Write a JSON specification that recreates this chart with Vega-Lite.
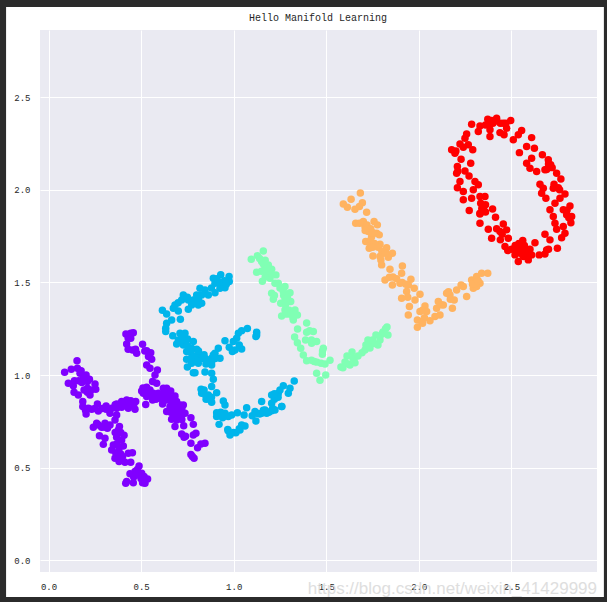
{"$schema":"https://vega.github.io/schema/vega-lite/v6.json","width":557,"height":542,"autosize":{"type":"none"},"padding":{"left":40,"top":30,"right":10,"bottom":30},"background":"white","config":{"view":{"fill":"#eaeaf2","stroke":null},"axis":{"domain":false,"ticks":false,"grid":true,"gridColor":"white","gridWidth":1,"gridOpacity":1,"labelFont":"Liberation Mono","labelFontSize":9,"labelColor":"#262626","labelPadding":10,"title":null}},"layer":[{"data":{"values":[
{"x":0.154,"y":1.078,"k":0},{"x":0.087,"y":1.015,"k":0},{"x":0.123,"y":1.031,"k":0},{"x":0.156,"y":1.037,"k":0},{"x":0.176,"y":1.024,"k":0},{"x":0.17,"y":1.01,"k":0},{"x":0.203,"y":1.001,"k":0},{"x":0.221,"y":0.977,"k":0},{"x":0.188,"y":0.983,"k":0},{"x":0.163,"y":0.97,"k":0},{"x":0.107,"y":0.956,"k":0},{"x":0.134,"y":0.943,"k":0},{"x":0.21,"y":0.965,"k":0},{"x":0.251,"y":0.952,"k":0},{"x":0.255,"y":0.923,"k":0},{"x":0.21,"y":0.929,"k":0},{"x":0.192,"y":0.92,"k":0},{"x":0.138,"y":0.907,"k":0},{"x":0.161,"y":0.893,"k":0},{"x":0.224,"y":0.893,"k":0},{"x":0.21,"y":0.907,"k":0},{"x":0.185,"y":0.857,"k":0},{"x":0.185,"y":0.83,"k":0},{"x":0.215,"y":0.821,"k":0},{"x":0.203,"y":0.79,"k":0},{"x":0.233,"y":0.815,"k":0},{"x":0.264,"y":0.844,"k":0},{"x":0.269,"y":0.806,"k":0},{"x":0.311,"y":0.833,"k":0},{"x":0.311,"y":0.815,"k":0},{"x":0.341,"y":0.821,"k":0},{"x":0.368,"y":0.844,"k":0},{"x":0.368,"y":0.821,"k":0},{"x":0.395,"y":0.826,"k":0},{"x":0.395,"y":0.857,"k":0},{"x":0.422,"y":0.866,"k":0},{"x":0.444,"y":0.862,"k":0},{"x":0.471,"y":0.857,"k":0},{"x":0.467,"y":0.815,"k":0},{"x":0.431,"y":0.821,"k":0},{"x":0.413,"y":0.839,"k":0},{"x":0.449,"y":0.839,"k":0},{"x":0.332,"y":0.794,"k":0},{"x":0.368,"y":0.785,"k":0},{"x":0.359,"y":0.758,"k":0},{"x":0.383,"y":0.722,"k":0},{"x":0.377,"y":0.704,"k":0},{"x":0.242,"y":0.718,"k":0},{"x":0.26,"y":0.74,"k":0},{"x":0.287,"y":0.718,"k":0},{"x":0.305,"y":0.74,"k":0},{"x":0.318,"y":0.713,"k":0},{"x":0.332,"y":0.731,"k":0},{"x":0.275,"y":0.673,"k":0},{"x":0.305,"y":0.659,"k":0},{"x":0.296,"y":0.626,"k":0},{"x":0.35,"y":0.623,"k":0},{"x":0.368,"y":0.664,"k":0},{"x":0.408,"y":0.675,"k":0},{"x":0.395,"y":0.65,"k":0},{"x":0.404,"y":0.617,"k":0},{"x":0.341,"y":0.596,"k":0},{"x":0.364,"y":0.578,"k":0},{"x":0.39,"y":0.574,"k":0},{"x":0.359,"y":0.551,"k":0},{"x":0.381,"y":0.533,"k":0},{"x":0.413,"y":0.529,"k":0},{"x":0.444,"y":0.529,"k":0},{"x":0.431,"y":0.578,"k":0},{"x":0.453,"y":0.581,"k":0},{"x":0.489,"y":0.509,"k":0},{"x":0.467,"y":0.479,"k":0},{"x":0.44,"y":0.468,"k":0},{"x":0.472,"y":0.461,"k":0},{"x":0.503,"y":0.47,"k":0},{"x":0.516,"y":0.452,"k":0},{"x":0.535,"y":0.439,"k":0},{"x":0.458,"y":0.419,"k":0},{"x":0.422,"y":0.425,"k":0},{"x":0.417,"y":0.416,"k":0},{"x":0.508,"y":0.419,"k":0},{"x":0.521,"y":0.416,"k":0},{"x":0.418,"y":1.222,"k":0},{"x":0.444,"y":1.226,"k":0},{"x":0.458,"y":1.229,"k":0},{"x":0.422,"y":1.168,"k":0},{"x":0.444,"y":1.199,"k":0},{"x":0.454,"y":1.136,"k":0},{"x":0.476,"y":1.118,"k":0},{"x":0.508,"y":1.166,"k":0},{"x":0.53,"y":1.132,"k":0},{"x":0.552,"y":1.121,"k":0},{"x":0.557,"y":1.085,"k":0},{"x":0.53,"y":1.055,"k":0},{"x":0.548,"y":1.037,"k":0},{"x":0.588,"y":1.028,"k":0},{"x":0.575,"y":1.001,"k":0},{"x":0.562,"y":0.965,"k":0},{"x":0.584,"y":0.956,"k":0},{"x":0.521,"y":0.92,"k":0},{"x":0.503,"y":0.914,"k":0},{"x":0.53,"y":0.934,"k":0},{"x":0.548,"y":0.92,"k":0},{"x":0.53,"y":0.884,"k":0},{"x":0.566,"y":0.902,"k":0},{"x":0.562,"y":0.866,"k":0},{"x":0.525,"y":0.841,"k":0},{"x":0.593,"y":0.902,"k":0},{"x":0.62,"y":0.929,"k":0},{"x":0.638,"y":0.929,"k":0},{"x":0.66,"y":0.914,"k":0},{"x":0.602,"y":0.875,"k":0},{"x":0.616,"y":0.844,"k":0},{"x":0.638,"y":0.866,"k":0},{"x":0.683,"y":0.887,"k":0},{"x":0.692,"y":0.857,"k":0},{"x":0.665,"y":0.857,"k":0},{"x":0.728,"y":0.839,"k":0},{"x":0.71,"y":0.812,"k":0},{"x":0.638,"y":0.803,"k":0},{"x":0.674,"y":0.815,"k":0},{"x":0.737,"y":0.794,"k":0},{"x":0.665,"y":0.761,"k":0},{"x":0.701,"y":0.776,"k":0},{"x":0.692,"y":0.758,"k":0},{"x":0.769,"y":0.77,"k":0},{"x":0.782,"y":0.734,"k":0},{"x":0.73,"y":0.727,"k":0},{"x":0.683,"y":0.722,"k":0},{"x":0.796,"y":0.686,"k":0},{"x":0.719,"y":0.682,"k":0},{"x":0.732,"y":0.664,"k":0},{"x":0.782,"y":0.677,"k":0},{"x":0.769,"y":0.632,"k":0},{"x":0.845,"y":0.632,"k":0},{"x":0.823,"y":0.628,"k":0},{"x":0.805,"y":0.608,"k":0},{"x":0.769,"y":0.572,"k":0},{"x":0.777,"y":0.56,"k":0},{"x":0.786,"y":0.551,"k":0},{"x":0.656,"y":0.83,"k":0},{"x":0.683,"y":0.839,"k":0},{"x":0.71,"y":0.839,"k":0},{"x":0.692,"y":0.794,"k":0},{"x":0.674,"y":0.785,"k":0},{"x":0.719,"y":0.785,"k":0},{"x":0.647,"y":0.902,"k":0},{"x":0.629,"y":0.875,"k":0},{"x":0.539,"y":0.902,"k":0},{"x":0.512,"y":0.902,"k":0},
{"x":0.18,"y":0.96,"k":0},{"x":0.23,"y":0.92,"k":0},{"x":0.14,"y":0.97,"k":0},{"x":0.2,"y":0.81,"k":0},{"x":0.25,"y":0.82,"k":0},{"x":0.29,"y":0.82,"k":0},{"x":0.36,"y":0.84,"k":0},{"x":0.42,"y":0.84,"k":0},{"x":0.46,"y":0.84,"k":0},{"x":0.43,"y":0.86,"k":0},{"x":0.27,"y":0.73,"k":0},{"x":0.3,"y":0.72,"k":0},{"x":0.36,"y":0.69,"k":0},{"x":0.39,"y":0.69,"k":0},{"x":0.37,"y":0.63,"k":0},{"x":0.38,"y":0.6,"k":0},{"x":0.4,"y":0.56,"k":0},{"x":0.37,"y":0.56,"k":0},{"x":0.48,"y":0.49,"k":0},{"x":0.49,"y":0.46,"k":0},{"x":0.46,"y":0.45,"k":0},{"x":0.5,"y":0.44,"k":0},{"x":0.43,"y":1.2,"k":0},{"x":0.43,"y":1.14,"k":0},{"x":0.47,"y":1.14,"k":0},{"x":0.54,"y":1.1,"k":0},{"x":0.52,"y":1.13,"k":0},{"x":0.51,"y":0.93,"k":0},{"x":0.55,"y":0.89,"k":0},{"x":0.58,"y":0.87,"k":0},{"x":0.65,"y":0.88,"k":0},{"x":0.67,"y":0.84,"k":0},{"x":0.7,"y":0.83,"k":0},{"x":0.66,"y":0.8,"k":0},{"x":0.72,"y":0.82,"k":0},{"x":0.7,"y":0.79,"k":0},{"x":0.69,"y":0.78,"k":0},{"x":0.72,"y":0.76,"k":0},{"x":0.62,"y":0.9,"k":0},{"x":0.74,"y":0.67,"k":0},
{"x":0.93,"y":1.542,"k":1},{"x":0.975,"y":1.532,"k":1},{"x":0.89,"y":1.523,"k":1},{"x":0.976,"y":1.505,"k":1},{"x":0.899,"y":1.496,"k":1},{"x":0.935,"y":1.496,"k":1},{"x":0.926,"y":1.469,"k":1},{"x":0.953,"y":1.472,"k":1},{"x":0.899,"y":1.445,"k":1},{"x":0.818,"y":1.469,"k":1},{"x":0.845,"y":1.46,"k":1},{"x":0.827,"y":1.433,"k":1},{"x":0.863,"y":1.433,"k":1},{"x":0.728,"y":1.433,"k":1},{"x":0.8,"y":1.433,"k":1},{"x":0.719,"y":1.406,"k":1},{"x":0.755,"y":1.406,"k":1},{"x":0.782,"y":1.406,"k":1},{"x":0.773,"y":1.379,"k":1},{"x":0.827,"y":1.388,"k":1},{"x":0.809,"y":1.379,"k":1},{"x":0.755,"y":1.355,"k":1},{"x":0.683,"y":1.379,"k":1},{"x":0.674,"y":1.361,"k":1},{"x":0.701,"y":1.346,"k":1},{"x":0.615,"y":1.35,"k":1},{"x":0.638,"y":1.33,"k":1},{"x":0.665,"y":1.298,"k":1},{"x":0.712,"y":1.301,"k":1},{"x":0.638,"y":1.28,"k":1},{"x":0.633,"y":1.253,"k":1},{"x":0.633,"y":1.235,"k":1},{"x":0.671,"y":1.213,"k":1},{"x":0.71,"y":1.226,"k":1},{"x":0.737,"y":1.226,"k":1},{"x":0.701,"y":1.19,"k":1},{"x":0.692,"y":1.168,"k":1},{"x":0.728,"y":1.163,"k":1},{"x":0.751,"y":1.195,"k":1},{"x":0.782,"y":1.181,"k":1},{"x":0.746,"y":1.127,"k":1},{"x":0.773,"y":1.145,"k":1},{"x":0.8,"y":1.139,"k":1},{"x":0.746,"y":1.085,"k":1},{"x":0.782,"y":1.1,"k":1},{"x":0.818,"y":1.109,"k":1},{"x":0.836,"y":1.1,"k":1},{"x":0.809,"y":1.064,"k":1},{"x":0.773,"y":1.064,"k":1},{"x":0.75,"y":1.044,"k":1},{"x":0.782,"y":1.013,"k":1},{"x":0.791,"y":1.013,"k":1},{"x":0.845,"y":1.017,"k":1},{"x":0.881,"y":1.01,"k":1},{"x":0.845,"y":1.091,"k":1},{"x":0.881,"y":1.091,"k":1},{"x":0.89,"y":1.109,"k":1},{"x":0.917,"y":1.145,"k":1},{"x":0.899,"y":1.118,"k":1},{"x":0.926,"y":1.091,"k":1},{"x":0.881,"y":1.055,"k":1},{"x":0.863,"y":1.064,"k":1},{"x":0.953,"y":1.186,"k":1},{"x":0.998,"y":1.181,"k":1},{"x":1.025,"y":1.226,"k":1},{"x":1.043,"y":1.24,"k":1},{"x":1.074,"y":1.251,"k":1},{"x":1.016,"y":1.199,"k":1},{"x":0.976,"y":1.15,"k":1},{"x":1.007,"y":1.136,"k":1},{"x":0.993,"y":1.127,"k":1},{"x":1.043,"y":1.141,"k":1},{"x":1.03,"y":1.163,"k":1},{"x":1.124,"y":1.231,"k":1},{"x":1.12,"y":1.208,"k":1},{"x":1.124,"y":1.217,"k":1},{"x":0.89,"y":0.977,"k":1},{"x":0.881,"y":0.938,"k":1},{"x":0.824,"y":0.923,"k":1},{"x":0.827,"y":0.902,"k":1},{"x":0.908,"y":0.905,"k":1},{"x":0.851,"y":0.869,"k":1},{"x":0.881,"y":0.853,"k":1},{"x":0.863,"y":0.893,"k":1},{"x":0.944,"y":0.86,"k":1},{"x":0.953,"y":0.839,"k":1},{"x":0.908,"y":0.797,"k":1},{"x":0.908,"y":0.776,"k":1},{"x":0.921,"y":0.734,"k":1},{"x":0.953,"y":0.794,"k":1},{"x":0.971,"y":0.776,"k":1},{"x":0.989,"y":0.785,"k":1},{"x":1.02,"y":0.797,"k":1},{"x":0.968,"y":0.707,"k":1},{"x":0.98,"y":0.677,"k":1},{"x":1.012,"y":0.689,"k":1},{"x":1.034,"y":0.704,"k":1},{"x":1.061,"y":0.725,"k":1},{"x":1.043,"y":0.731,"k":1},{"x":1.056,"y":0.785,"k":1},{"x":1.07,"y":0.824,"k":1},{"x":1.12,"y":0.752,"k":1},{"x":1.115,"y":0.803,"k":1},{"x":1.124,"y":0.794,"k":1},{"x":1.151,"y":0.794,"k":1},{"x":1.151,"y":0.857,"k":1},{"x":1.169,"y":0.812,"k":1},{"x":1.178,"y":0.794,"k":1},{"x":1.205,"y":0.808,"k":1},{"x":1.223,"y":0.812,"k":1},{"x":1.259,"y":0.83,"k":1},{"x":1.205,"y":0.848,"k":1},{"x":1.205,"y":0.893,"k":1},{"x":1.241,"y":0.902,"k":1},{"x":1.25,"y":0.92,"k":1},{"x":1.295,"y":0.902,"k":1},{"x":1.304,"y":0.929,"k":1},{"x":1.268,"y":0.943,"k":1},{"x":1.327,"y":0.968,"k":1},
{"x":0.91,"y":1.52,"k":1},{"x":0.95,"y":1.51,"k":1},{"x":0.92,"y":1.5,"k":1},{"x":0.96,"y":1.49,"k":1},{"x":0.88,"y":1.47,"k":1},{"x":0.75,"y":1.42,"k":1},{"x":0.7,"y":1.39,"k":1},{"x":0.81,"y":1.41,"k":1},{"x":0.73,"y":1.19,"k":1},{"x":0.72,"y":1.21,"k":1},{"x":0.77,"y":1.12,"k":1},{"x":0.8,"y":1.1,"k":1},{"x":0.83,"y":1.09,"k":1},{"x":0.8,"y":1.08,"k":1},{"x":0.77,"y":1.09,"k":1},{"x":0.86,"y":1.08,"k":1},{"x":0.84,"y":1.11,"k":1},{"x":0.9,"y":1.09,"k":1},{"x":0.81,"y":1.13,"k":1},{"x":0.75,"y":1.16,"k":1},{"x":0.88,"y":1.07,"k":1},{"x":0.85,"y":1.06,"k":1},{"x":0.84,"y":0.92,"k":1},{"x":0.85,"y":0.89,"k":1},{"x":0.88,"y":0.88,"k":1},{"x":0.87,"y":0.87,"k":1},{"x":0.93,"y":0.8,"k":1},{"x":0.96,"y":0.78,"k":1},{"x":0.94,"y":0.77,"k":1},{"x":0.97,"y":0.7,"k":1},{"x":1.0,"y":0.69,"k":1},{"x":1.03,"y":0.71,"k":1},{"x":1.16,"y":0.81,"k":1},{"x":1.19,"y":0.8,"k":1},{"x":1.21,"y":0.82,"k":1},{"x":1.22,"y":0.87,"k":1},{"x":1.24,"y":0.88,"k":1},{"x":1.22,"y":0.9,"k":1},{"x":1.14,"y":0.79,"k":1},{"x":1.1,"y":0.78,"k":1},{"x":1.26,"y":0.83,"k":1},
{"x":1.16,"y":1.67,"k":2},{"x":1.128,"y":1.645,"k":2},{"x":1.095,"y":1.625,"k":2},{"x":1.151,"y":1.613,"k":2},{"x":1.187,"y":1.595,"k":2},{"x":1.169,"y":1.577,"k":2},{"x":1.205,"y":1.571,"k":2},{"x":1.124,"y":1.555,"k":2},{"x":1.178,"y":1.55,"k":2},{"x":1.228,"y":1.541,"k":2},{"x":1.155,"y":1.506,"k":2},{"x":1.196,"y":1.523,"k":2},{"x":1.223,"y":1.496,"k":2},{"x":1.241,"y":1.496,"k":2},{"x":1.277,"y":1.478,"k":2},{"x":1.205,"y":1.442,"k":2},{"x":1.214,"y":1.409,"k":2},{"x":1.268,"y":1.451,"k":2},{"x":1.304,"y":1.445,"k":2},{"x":1.277,"y":1.406,"k":2},{"x":1.254,"y":1.388,"k":2},{"x":1.308,"y":1.397,"k":2},{"x":1.277,"y":1.352,"k":2},{"x":1.259,"y":1.319,"k":2},{"x":1.295,"y":1.33,"k":2},{"x":1.331,"y":1.352,"k":2},{"x":1.344,"y":1.325,"k":2},{"x":1.322,"y":1.298,"k":2},{"x":1.394,"y":1.281,"k":2},{"x":1.345,"y":1.249,"k":2},{"x":1.394,"y":1.231,"k":2},{"x":1.43,"y":1.235,"k":2},{"x":1.329,"y":1.206,"k":2},{"x":1.388,"y":1.19,"k":2},{"x":1.421,"y":1.172,"k":2},{"x":1.448,"y":1.181,"k":2},{"x":1.344,"y":1.175,"k":2},{"x":1.362,"y":1.145,"k":2},{"x":1.484,"y":1.145,"k":2},{"x":1.479,"y":1.112,"k":2},{"x":1.376,"y":1.109,"k":2},{"x":1.394,"y":1.078,"k":2},{"x":1.435,"y":1.073,"k":2},{"x":1.472,"y":1.064,"k":2},{"x":1.493,"y":1.06,"k":2},{"x":1.52,"y":1.08,"k":2},{"x":1.448,"y":1.01,"k":2},{"x":1.497,"y":1.001,"k":2},{"x":1.466,"y":0.972,"k":2},{"x":1.579,"y":1.044,"k":2},{"x":1.601,"y":1.071,"k":2},{"x":1.628,"y":1.055,"k":2},{"x":1.644,"y":1.092,"k":2},{"x":1.671,"y":1.103,"k":2},{"x":1.612,"y":1.103,"k":2},{"x":1.709,"y":1.136,"k":2},{"x":1.736,"y":1.146,"k":2},{"x":1.747,"y":1.179,"k":2},{"x":1.779,"y":1.163,"k":2},{"x":1.79,"y":1.19,"k":2},{"x":1.768,"y":1.217,"k":2},{"x":1.806,"y":1.233,"k":2},{"x":1.828,"y":1.26,"k":2},{"x":1.833,"y":1.217,"k":2},{"x":1.725,"y":1.19,"k":2},{"x":1.693,"y":1.12,"k":2},{"x":1.655,"y":1.066,"k":2},{"x":1.59,"y":1.039,"k":2},{"x":1.639,"y":1.125,"k":2},{"x":1.714,"y":1.163,"k":2},
{"x":1.14,"y":1.63,"k":2},{"x":1.17,"y":1.62,"k":2},{"x":1.16,"y":1.6,"k":2},{"x":1.18,"y":1.58,"k":2},{"x":1.15,"y":1.56,"k":2},{"x":1.2,"y":1.55,"k":2},{"x":1.17,"y":1.53,"k":2},{"x":1.25,"y":1.47,"k":2},{"x":1.22,"y":1.43,"k":2},{"x":1.27,"y":1.43,"k":2},{"x":1.29,"y":1.42,"k":2},{"x":1.28,"y":1.38,"k":2},{"x":1.3,"y":1.35,"k":2},{"x":1.28,"y":1.33,"k":2},{"x":1.31,"y":1.33,"k":2},{"x":1.32,"y":1.31,"k":2},{"x":1.41,"y":1.24,"k":2},{"x":1.42,"y":1.19,"k":2},{"x":1.48,"y":1.13,"k":2},{"x":1.45,"y":1.07,"k":2},{"x":1.42,"y":1.08,"k":2},{"x":1.76,"y":1.17,"k":2},{"x":1.8,"y":1.22,"k":2},{"x":1.82,"y":1.25,"k":2},{"x":1.75,"y":1.19,"k":2},{"x":1.65,"y":1.09,"k":2},{"x":1.62,"y":1.06,"k":2},
{"x":1.684,"y":1.983,"k":3},{"x":1.634,"y":1.949,"k":3},{"x":1.592,"y":1.924,"k":3},{"x":1.614,"y":1.906,"k":3},{"x":1.655,"y":1.895,"k":3},{"x":1.695,"y":1.931,"k":3},{"x":1.679,"y":1.91,"k":3},{"x":1.718,"y":1.879,"k":3},{"x":1.659,"y":1.82,"k":3},{"x":1.7,"y":1.829,"k":3},{"x":1.758,"y":1.829,"k":3},{"x":1.776,"y":1.811,"k":3},{"x":1.709,"y":1.802,"k":3},{"x":1.727,"y":1.775,"k":3},{"x":1.772,"y":1.766,"k":3},{"x":1.745,"y":1.748,"k":3},{"x":1.786,"y":1.757,"k":3},{"x":1.713,"y":1.721,"k":3},{"x":1.736,"y":1.712,"k":3},{"x":1.79,"y":1.706,"k":3},{"x":1.732,"y":1.685,"k":3},{"x":1.826,"y":1.688,"k":3},{"x":1.857,"y":1.658,"k":3},{"x":1.752,"y":1.643,"k":3},{"x":1.808,"y":1.658,"k":3},{"x":1.835,"y":1.636,"k":3},{"x":1.795,"y":1.622,"k":3},{"x":1.799,"y":1.595,"k":3},{"x":1.844,"y":1.571,"k":3},{"x":1.911,"y":1.589,"k":3},{"x":1.907,"y":1.55,"k":3},{"x":1.841,"y":1.528,"k":3},{"x":1.817,"y":1.514,"k":3},{"x":1.857,"y":1.487,"k":3},{"x":1.898,"y":1.496,"k":3},{"x":1.957,"y":1.517,"k":3},{"x":1.943,"y":1.487,"k":3},{"x":1.975,"y":1.469,"k":3},{"x":1.934,"y":1.451,"k":3},{"x":1.907,"y":1.415,"k":3},{"x":2.006,"y":1.436,"k":3},{"x":1.979,"y":1.406,"k":3},{"x":1.949,"y":1.37,"k":3},{"x":1.943,"y":1.325,"k":3},{"x":2.033,"y":1.373,"k":3},{"x":2.006,"y":1.343,"k":3},{"x":2.042,"y":1.343,"k":3},{"x":1.992,"y":1.298,"k":3},{"x":2.015,"y":1.289,"k":3},{"x":1.992,"y":1.258,"k":3},{"x":2.06,"y":1.294,"k":3},{"x":2.087,"y":1.316,"k":3},{"x":2.114,"y":1.325,"k":3},{"x":2.096,"y":1.361,"k":3},{"x":2.132,"y":1.379,"k":3},{"x":2.105,"y":1.397,"k":3},{"x":2.15,"y":1.442,"k":3},{"x":2.181,"y":1.361,"k":3},{"x":2.191,"y":1.406,"k":3},{"x":2.168,"y":1.433,"k":3},{"x":2.204,"y":1.46,"k":3},{"x":2.228,"y":1.487,"k":3},{"x":2.24,"y":1.478,"k":3},{"x":2.258,"y":1.424,"k":3},{"x":2.294,"y":1.469,"k":3},{"x":2.312,"y":1.478,"k":3},{"x":2.285,"y":1.514,"k":3},{"x":2.312,"y":1.532,"k":3},{"x":2.339,"y":1.55,"k":3},{"x":2.372,"y":1.55,"k":3},{"x":2.33,"y":1.496,"k":3},
{"x":1.68,"y":1.82,"k":3},{"x":1.72,"y":1.81,"k":3},{"x":1.74,"y":1.79,"k":3},{"x":1.71,"y":1.78,"k":3},{"x":1.75,"y":1.77,"k":3},{"x":1.74,"y":1.73,"k":3},{"x":1.76,"y":1.71,"k":3},{"x":1.75,"y":1.69,"k":3},{"x":1.78,"y":1.69,"k":3},{"x":1.8,"y":1.67,"k":3},{"x":1.82,"y":1.66,"k":3},{"x":1.79,"y":1.64,"k":3},{"x":1.86,"y":1.53,"k":3},{"x":1.88,"y":1.52,"k":3},{"x":1.91,"y":1.5,"k":3},{"x":1.93,"y":1.49,"k":3},{"x":1.94,"y":1.42,"k":3},{"x":2.02,"y":1.35,"k":3},{"x":2.03,"y":1.31,"k":3},{"x":2.02,"y":1.28,"k":3},{"x":2.12,"y":1.38,"k":3},{"x":2.17,"y":1.41,"k":3},{"x":2.16,"y":1.45,"k":3},{"x":2.31,"y":1.5,"k":3},{"x":2.29,"y":1.49,"k":3},{"x":2.32,"y":1.51,"k":3},
{"x":2.42,"y":2.387,"k":4},{"x":2.372,"y":2.381,"k":4},{"x":2.393,"y":2.374,"k":4},{"x":2.33,"y":2.345,"k":4},{"x":2.285,"y":2.354,"k":4},{"x":2.496,"y":2.374,"k":4},{"x":2.456,"y":2.36,"k":4},{"x":2.474,"y":2.333,"k":4},{"x":2.384,"y":2.324,"k":4},{"x":2.321,"y":2.315,"k":4},{"x":2.384,"y":2.288,"k":4},{"x":2.438,"y":2.309,"k":4},{"x":2.46,"y":2.297,"k":4},{"x":2.555,"y":2.32,"k":4},{"x":2.537,"y":2.297,"k":4},{"x":2.51,"y":2.27,"k":4},{"x":2.609,"y":2.282,"k":4},{"x":2.258,"y":2.302,"k":4},{"x":2.249,"y":2.279,"k":4},{"x":2.222,"y":2.248,"k":4},{"x":2.267,"y":2.243,"k":4},{"x":2.291,"y":2.216,"k":4},{"x":2.177,"y":2.216,"k":4},{"x":2.195,"y":2.198,"k":4},{"x":2.582,"y":2.234,"k":4},{"x":2.624,"y":2.225,"k":4},{"x":2.543,"y":2.201,"k":4},{"x":2.228,"y":2.165,"k":4},{"x":2.28,"y":2.144,"k":4},{"x":2.208,"y":2.126,"k":4},{"x":2.667,"y":2.189,"k":4},{"x":2.609,"y":2.171,"k":4},{"x":2.582,"y":2.144,"k":4},{"x":2.699,"y":2.162,"k":4},{"x":2.712,"y":2.135,"k":4},{"x":2.681,"y":2.108,"k":4},{"x":2.6,"y":2.117,"k":4},{"x":2.636,"y":2.099,"k":4},{"x":2.204,"y":2.09,"k":4},{"x":2.249,"y":2.102,"k":4},{"x":2.271,"y":2.075,"k":4},{"x":2.744,"y":2.09,"k":4},{"x":2.767,"y":2.059,"k":4},{"x":2.222,"y":2.045,"k":4},{"x":2.303,"y":2.045,"k":4},{"x":2.321,"y":2.027,"k":4},{"x":2.294,"y":2.0,"k":4},{"x":2.208,"y":2.012,"k":4},{"x":2.24,"y":1.991,"k":4},{"x":2.654,"y":2.03,"k":4},{"x":2.672,"y":2.009,"k":4},{"x":2.726,"y":2.009,"k":4},{"x":2.753,"y":2.012,"k":4},{"x":2.663,"y":1.982,"k":4},{"x":2.789,"y":1.978,"k":4},{"x":2.33,"y":1.964,"k":4},{"x":2.357,"y":1.964,"k":4},{"x":2.24,"y":1.946,"k":4},{"x":2.285,"y":1.955,"k":4},{"x":2.686,"y":1.955,"k":4},{"x":2.762,"y":1.955,"k":4},{"x":2.816,"y":1.913,"k":4},{"x":2.735,"y":1.928,"k":4},{"x":2.334,"y":1.928,"k":4},{"x":2.348,"y":1.901,"k":4},{"x":2.398,"y":1.897,"k":4},{"x":2.272,"y":1.888,"k":4},{"x":2.708,"y":1.892,"k":4},{"x":2.78,"y":1.892,"k":4},{"x":2.798,"y":1.865,"k":4},{"x":2.33,"y":1.874,"k":4},{"x":2.825,"y":1.856,"k":4},{"x":2.726,"y":1.856,"k":4},{"x":2.414,"y":1.852,"k":4},{"x":2.735,"y":1.82,"k":4},{"x":2.78,"y":1.802,"k":4},{"x":2.821,"y":1.823,"k":4},{"x":2.33,"y":1.82,"k":4},{"x":2.744,"y":1.787,"k":4},{"x":2.375,"y":1.787,"k":4},{"x":2.456,"y":1.816,"k":4},{"x":2.438,"y":1.775,"k":4},{"x":2.474,"y":1.784,"k":4},{"x":2.681,"y":1.76,"k":4},{"x":2.789,"y":1.766,"k":4},{"x":2.771,"y":1.742,"k":4},{"x":2.393,"y":1.739,"k":4},{"x":2.483,"y":1.739,"k":4},{"x":2.708,"y":1.73,"k":4},{"x":2.627,"y":1.715,"k":4},{"x":2.561,"y":1.726,"k":4},{"x":2.465,"y":1.694,"k":4},{"x":2.48,"y":1.672,"k":4},{"x":2.528,"y":1.694,"k":4},{"x":2.564,"y":1.685,"k":4},{"x":2.519,"y":1.649,"k":4},{"x":2.582,"y":1.667,"k":4},{"x":2.69,"y":1.676,"k":4},{"x":2.748,"y":1.685,"k":4},{"x":2.681,"y":1.654,"k":4},{"x":2.65,"y":1.649,"k":4},{"x":2.537,"y":1.613,"k":4},{"x":2.591,"y":1.622,"k":4},{"x":2.564,"y":1.64,"k":4},{"x":2.609,"y":1.649,"k":4},
{"x":2.4,"y":2.36,"k":4},{"x":2.36,"y":2.35,"k":4},{"x":2.38,"y":2.35,"k":4},{"x":2.44,"y":2.36,"k":4},{"x":2.41,"y":2.37,"k":4},{"x":2.47,"y":2.36,"k":4},{"x":2.55,"y":1.68,"k":4},{"x":2.53,"y":1.66,"k":4},{"x":2.56,"y":1.65,"k":4},{"x":2.54,"y":1.71,"k":4},{"x":2.52,"y":1.7,"k":4},{"x":2.57,"y":1.7,"k":4},{"x":2.59,"y":1.64,"k":4},{"x":2.5,"y":1.68,"k":4},{"x":2.6,"y":1.68,"k":4},{"x":2.7,"y":1.68,"k":4},{"x":2.72,"y":2.12,"k":4},{"x":2.7,"y":2.14,"k":4},{"x":2.69,"y":2.11,"k":4},{"x":2.76,"y":2.0,"k":4},{"x":2.73,"y":2.03,"k":4},{"x":2.8,"y":1.89,"k":4},{"x":2.81,"y":1.85,"k":4},{"x":2.36,"y":1.92,"k":4},{"x":2.34,"y":1.9,"k":4},{"x":2.36,"y":1.88,"k":4},{"x":2.33,"y":1.87,"k":4},{"x":2.21,"y":2.1,"k":4},{"x":2.2,"y":2.21,"k":4},{"x":2.24,"y":2.23,"k":4},{"x":2.42,"y":1.79,"k":4},{"x":2.45,"y":1.76,"k":4},{"x":2.44,"y":1.73,"k":4}
]},"mark":{"type":"circle","size":56,"opacity":1},"encoding":{"x":{"field":"x","type":"quantitative","axis":{"values":[0,0.5,1,1.5,2,2.5],"format":".1f"},"scale":{"domain":[-0.046,2.962],"nice":false,"zero":false}},"y":{"field":"y","type":"quantitative","axis":{"values":[0,0.5,1,1.5,2,2.5],"format":".1f"},"scale":{"domain":[-0.063,2.863],"nice":false,"zero":false}},"color":{"field":"k","type":"nominal","legend":null,"scale":{"domain":[0,1,2,3,4],"range":["#8000ff","#00b5eb","#80ffb4","#ffb360","#ff0000"]}}}},
{"data":{"values":[{"note":"title"}]},"mark":{"type":"text","text":"Hello Manifold Learning","font":"Liberation Mono","fontSize":10,"align":"center","baseline":"middle","color":"#262626","clip":false},"encoding":{"x":{"datum":1.455},"y":{"datum":2.928}}},
{"data":{"values":[{"note":"watermark"}]},"mark":{"type":"text","text":"https://blog.csdn.net/weixin_41429999","font":"Liberation Sans","fontSize":17,"align":"right","baseline":"middle","color":"#d4d4d4","opacity":0.75,"clip":false},"encoding":{"x":{"datum":2.962},"y":{"datum":-0.157}}},
{"data":{"values":[{"note":"frame"}]},"mark":{"type":"rect","fill":"transparent","stroke":"#2b2b2b","strokeWidth":14,"clip":false},"encoding":{"x":{"datum":-0.267},"x2":{"datum":3.037},"y":{"datum":3.025},"y2":{"datum":-0.236}}}
]}
